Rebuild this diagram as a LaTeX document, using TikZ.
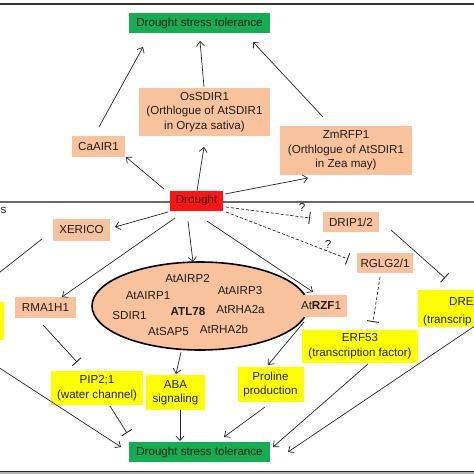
\documentclass[tikz,border=0pt]{standalone}
\usepackage{fontspec}
\setmainfont{Liberation Sans}
\usetikzlibrary{arrows.meta,calc,shapes.geometric}
\definecolor{peach}{HTML}{F8C29C}
\definecolor{ygreen}{HTML}{14AE50}
\definecolor{yel}{HTML}{FFFF00}
\definecolor{dred}{HTML}{FF1414}
\definecolor{txt}{HTML}{1E1E1E}
\begin{document}
\begin{tikzpicture}[x=1pt,y=-1pt,
  every node/.style={font=\fontsize{11.6}{14.3}\selectfont, text=txt, inner sep=0pt, align=center},
  sz/.style 2 args={minimum width=#1pt, minimum height=#2pt},
  pbox/.style={fill=peach},
  ybox/.style={fill=yel},
  gbox/.style={fill=ygreen},
  rbox/.style={fill=dred},
  arr/.style={draw=black!85, line width=0.7pt, -{Straight Barb[length=4.5pt,width=8pt]}},
  inh/.style={draw=black!85, line width=0.7pt, -{Bar[width=12pt,line width=0.9pt]}},
  dsh/.style={dash pattern=on 3pt off 2pt},
  plain/.style={draw=black!85, line width=0.7pt}]
\useasboundingbox (0,0) rectangle (474,474);
\clip (0,0) rectangle (474,474);
\fill[white] (0,0) rectangle (474,474);
% frame lines
\draw[line width=1.7pt, black!80] (0,4) -- (474,4);
\draw[line width=1.2pt, black!60] (0,202) -- (474,202);
\fill[black!30] (0,471) rectangle (474,474);
\draw[line width=1pt, black!85] (0,471) -- (474,471);

% top section
\node[gbox, sz={141}{20}] (green1) at (199.5,23) {Drought stress tolerance};
\node[pbox, sz={53}{21}] (caair) at (98.5,146.5) {CaAIR1};
\node[pbox, sz={131}{48}] (ossdir) at (204.5,112) {OsSDIR1\\(Orthlogue of AtSDIR1\\in Oryza sativa)};
\node[pbox, sz={132}{49}] (zmrfp) at (346,150.5) {ZmRFP1\\(Orthlogue of AtSDIR1\\in Zea may)};
\node[rbox, sz={53}{20}] (drought) at (196.5,200.5) {Drought};

% bottom section
\node[anchor=west] (sfrag) at (0.5,210) {s};
\node[ybox, sz={30}{38}] (leftbox) at (-11.5,321) {};
\coordinate (leftout) at (-5,276);
\coordinate (leftin) at (-2,367);
\node[pbox, sz={57}{22}] (xerico) at (81.5,230) {XERICO};
\node[pbox, sz={61}{21}] (rma) at (45.5,307.5) {RMA1H1};
\node[pbox, draw=black, line width=1.6pt, ellipse, minimum width=216pt, minimum height=88pt] (ell) at (200,306) {};
\node (e1) at (187.5,278) {AtAIRP2};
\node (e2) at (148,296) {AtAIRP1};
\node (e3) at (240,291) {AtAIRP3};
\node (e4) at (129.5,316) {SDIR1};
\node[font=\fontsize{11.6}{14.3}\selectfont\bfseries] (e5) at (188,311.5) {ATL78};
\node (e6) at (240.5,310) {AtRHA2a};
\node (e7) at (168.5,332) {AtSAP5};
\node (e8) at (224,329) {AtRHA2b};
\node[pbox, sz={52}{22}] (atrzf) at (321,306) {At\textbf{RZF}1};
\node[pbox, sz={56}{20}] (drip) at (351,222) {DRIP1/2};
\node[pbox, sz={56}{20}] (rglg) at (385,263) {RGLG2/1};
\node[ybox, sz={116}{37}] (dre) at (476,308.5) {};
\node[anchor=west] (dre1) at (449,302) {DRE};
\node[anchor=west] (dre2) at (423,320) {(transcrip};
\node[ybox, sz={116}{33}] (erf) at (360,346) {ERF53\\(transcription factor)};
\node[ybox, sz={66}{35}] (proline) at (270.5,384.5) {Proline\\production};
\node[ybox, sz={59}{35}] (aba) at (175.5,392.5) {ABA\\signaling};
\node[ybox, sz={92}{34}] (pip) at (97,388) {PIP2;1\\(water channel)};
\node[gbox, sz={141}{20}] (green2) at (199.5,452) {Drought stress tolerance};
\node (q1) at (302,207) {?};
\node (q2) at (328,244) {?};

% connectors, top
\draw[arr] ($(drought)+(-32.5,-11.5)$) -- ($(caair)+(27.5,10.5)$);
\draw[arr] ($(drought)+(0.5,-9.5)$) -- ($(ossdir)+(-0.5,35)$);
\draw[arr] ($(drought)+(28.5,-6.5)$) -- ($(zmrfp)+(-38,27.5)$);
\draw[arr] ($(caair)+(0.5,-19.5)$) -- ($(green1)+(-56.5,24)$);
\draw[arr] ($(ossdir)+(-0.5,-25)$) -- ($(green1)+(0.5,18)$);
\draw[arr] ($(zmrfp)+(-23,-33.5)$) -- ($(green1)+(53.5,19)$);

% connectors, bottom
\draw[arr] ($(drought)+(-28.5,11.5)$) -- ($(xerico)+(33.5,-3)$);
\draw[arr] ($(drought)+(-21.5,17.5)$) -- ($(rma)+(16.5,-10.5)$);
\draw[arr] ($(drought)+(-8.5,20.5)$) -- ($(ell)+(-7,-44)$);
\draw[arr] ($(drought)+(10.5,20.5)$) -- ($(atrzf)+(-8,-14)$);
\draw[inh, dsh] ($(drought)+(29.5,6.5)$) -- ($(drip)+(-41,-4)$);
\draw[inh, dsh] ($(drought)+(29.5,11.5)$) -- ($(rglg)+(-37,-4)$);
\draw[inh] ($(drip)+(40,8)$) -- ($(dre)+(-31,-30.5)$);
\draw[inh, dsh] ($(rglg)+(-5,14)$) -- ($(erf)+(13,-24)$);
\draw[inh] ($(rma)+(-2.5,17.5)$) -- ($(pip)+(-20,-26)$);
\draw[arr] (leftin) -- ($(green2)+(-78.5,-5)$);
\draw[plain] ($(xerico)+(-39.5,9)$) -- (leftout);
\draw[inh] ($(pip)+(13,18)$) -- ($(green2)+(-72.5,-19)$);
\draw[arr] ($(aba)+(4.5,17.5)$) -- ($(green2)+(-19.5,-11)$);
\draw[arr] ($(ell)+(-19,46)$) -- ($(aba)+(0.5,-18.5)$);
\draw[arr] ($(atrzf)+(-17,16)$) -- ($(proline)+(-2.5,-19.5)$);
\draw[arr] ($(proline)+(-5.5,22.5)$) -- ($(green2)+(24.5,-15)$);
\draw[arr] ($(erf)+(8,18)$) -- ($(green2)+(73.5,-5)$);
\draw[arr] ($(dre)+(-2,18)$) -- ($(green2)+(88.5,0)$);
\end{tikzpicture}
\end{document}
